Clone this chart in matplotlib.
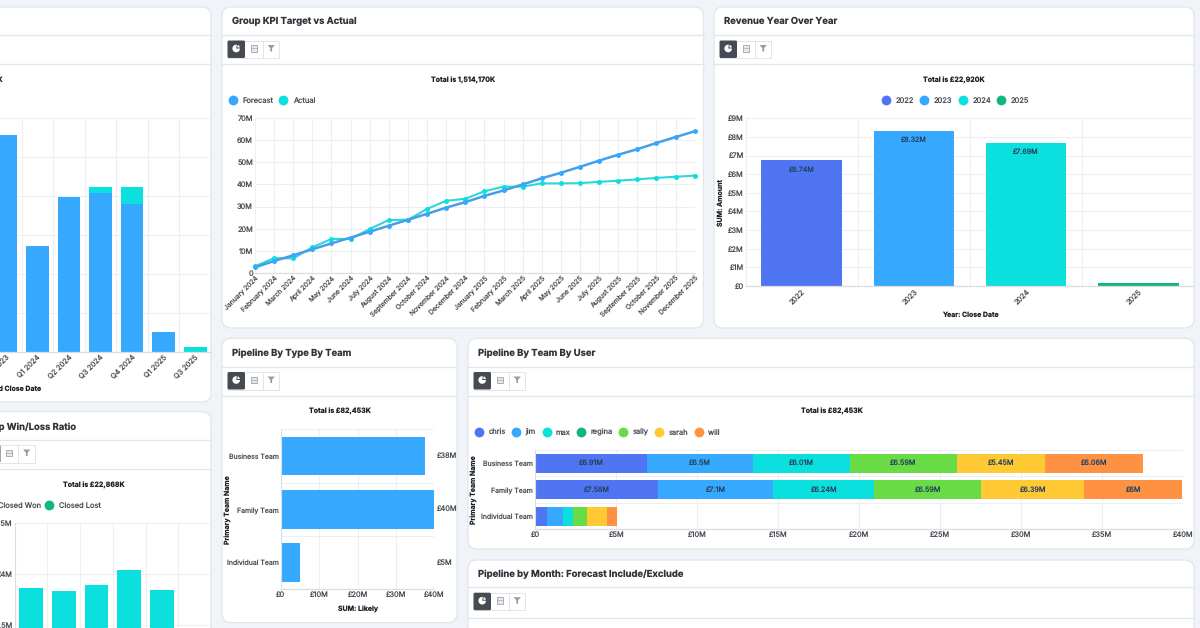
import matplotlib
matplotlib.use('Agg')
import matplotlib.pyplot as plt
from matplotlib.patches import FancyBboxPatch, Rectangle, Wedge, Polygon

plt.rcParams['font.family'] = ['Inter', 'DejaVu Sans']
plt.rcParams['text.hinting'] = 'no_hinting'
plt.rcParams['text.hinting_factor'] = 1

W, H = 1200, 628

# 차트 색상
INDIGO = '#4F75F2'
BLUE = '#36A9FF'
TEAL = '#0BE0DE'
GREEN = '#10B67F'
LIME = '#69DB45'
YELLOW = '#FFC933'
ORANGE = '#FF9142'
BG = '#F0F4F9'
BORDER = '#E2E6EB'
GRID = '#EDEFF2'
AXIS = '#DADEE3'
TITLE = '#2F343A'
TICK = '#4A5057'
DARK = '#1E2228'

# quarterly bars (left, mostly off the page)
quarters = ['Q4 2023', 'Q1 2024', 'Q2 2024', 'Q3 2024', 'Q4 2024', 'Q1 2025', 'Q3 2025']
quarter_blue = [5.56, 2.72, 3.98, 4.07, 3.80, 0.50, 0]
quarter_teal = [0, 0, 0, 0.15, 0.42, 0, 0.13]

# KPI lines
months = ['January 2024', 'February 2024', 'March 2024', 'April 2024', 'May 2024', 'June 2024',
          'July 2024', 'August 2024', 'September 2024', 'October 2024', 'November 2024', 'December 2024',
          'January 2025', 'February 2025', 'March 2025', 'April 2025', 'May 2025', 'June 2025',
          'July 2025', 'August 2025', 'September 2025', 'October 2025', 'November 2025', 'December 2025']
forecast = [2.4, 5.3, 7.9, 10.6, 13.3, 15.9, 18.6, 21.3, 24.0, 26.7, 29.5, 32.0,
            34.8, 37.3, 40.0, 42.8, 45.3, 48.0, 50.8, 53.5, 56.0, 58.8, 61.5, 64.1]
actual = [2.9, 6.6, 6.5, 11.5, 15.3, 15.3, 19.8, 23.9, 24.0, 28.9, 32.6, 33.5,
          36.9, 39.0, 39.0, 40.5, 40.5, 40.6, 41.2, 41.7, 42.3, 43.0, 43.5, 44.0]

# revenue by year
years = ['2022', '2023', '2024', '2025']
revenue = [6.74, 8.32, 7.69, 0.17]

# pipeline by team
teams = ['Business Team', 'Family Team', 'Individual Team']
team_likely = [37.6, 40.0, 5.0]

users = ['chris', 'jim', 'max', 'regina', 'sally', 'sarah', 'will']
user_business = [6.91, 6.5, 6.01, 0, 6.59, 5.45, 6.06]
user_family = [7.58, 7.1, 6.24, 0, 6.59, 6.39, 6.0]
user_individual = [0.75, 0.96, 0.64, 0, 0.87, 1.19, 0.64]
user_colors = [INDIGO, BLUE, TEAL, GREEN, LIME, YELLOW, ORANGE]

# win/loss bars
winloss = [3.87, 3.84, 3.89, 4.04, 3.85, 0]

fig = plt.figure(figsize=(W / 100, H / 100), dpi=100, facecolor=BG)
base = fig.add_axes([0, 0, 1, 1])
base.set_xlim(0, W)
base.set_ylim(H, 0)
base.axis('off')


def card(x0, y0, x1, y1, line1, line2):
    base.add_patch(FancyBboxPatch((x0, y0), x1 - x0, y1 - y0, boxstyle='round,pad=0,rounding_size=9',
                                  fc='white', ec=BORDER, lw=0.9, zorder=1))
    for y in (line1, line2):
        base.plot([x0, x1], [y, y], color=BORDER, lw=0.9, zorder=2)


def toolbar(x, y):
    # three buttons: chart, table, filter
    base.add_patch(Rectangle((x, y), 51.5, 17.5, fc='white', ec=BORDER, lw=0.7, zorder=3))
    base.plot([x + 35, x + 35], [y, y + 17.5], color=BORDER, lw=0.7, zorder=3)
    base.add_patch(FancyBboxPatch((x, y), 17.5, 17.5, boxstyle='round,pad=0,rounding_size=1.5',
                                  fc='#464B53', ec='none', zorder=4))
    cx, cy = x + 8.7, y + 8
    base.add_patch(Wedge((cx, cy), 3.8, 0, 280, fc='white', ec='none', zorder=5))
    base.add_patch(Wedge((cx + 1, cy - 1), 2.6, 280, 360, fc='white', ec='none', zorder=5))
    tx, ty = x + 23, y + 4.5
    base.add_patch(Rectangle((tx, ty), 6, 6.5, fc='#E6E8EB', ec='#A9AEB5', lw=0.7, zorder=5))
    base.plot([tx, tx + 6], [ty + 3.2, ty + 3.2], color='#A9AEB5', lw=0.5, zorder=6)
    fx, fy = x + 43.7, y + 4.5
    base.add_patch(Polygon([(fx - 3.6, fy), (fx + 3.6, fy), (fx + 0.9, fy + 3.2), (fx + 0.9, fy + 6.5),
                            (fx - 0.9, fy + 6.5), (fx - 0.9, fy + 3.2)], fc='#989DA4', ec='none', zorder=5))


def card_text(x, y, s, size=5.3, weight='normal', color=TICK, ha='left', rotation=0):
    base.text(x, y + 0.7, s, fontsize=size, fontweight=weight, color=color, ha=ha, va='center',
              rotation=rotation, zorder=6)


def legend(y, dots, names, colors, starts):
    for dx, name, c, sx in zip(dots, names, colors, starts):
        base.scatter([dx], [y], s=50, color=c, linewidths=0, zorder=6)
        card_text(sx, y, name, size=5.4)


def chart_axes(x0, y0, x1, y1):
    ax = fig.add_axes([x0 / W, 1 - y1 / H, (x1 - x0) / W, (y1 - y0) / H], facecolor='none', zorder=3)
    for side in ('top', 'right', 'left'):
        ax.spines[side].set_visible(False)
    ax.spines['bottom'].set_color(AXIS)
    ax.spines['bottom'].set_linewidth(0.9)
    ax.tick_params(length=0, labelsize=5.3, labelcolor=TICK, pad=1.5)
    ax.set_axisbelow(True)
    return ax


def band_grid(ax, n, axis='x'):
    # separators between category bands
    for i in range(n + 1):
        if axis == 'x':
            ax.axvline(i - 0.5, color=GRID, lw=0.8, zorder=0)
        else:
            ax.axhline(i - 0.5, color=GRID, lw=0.8, zorder=0)


def tilt(ax):
    for lab in ax.get_xticklabels():
        lab.set_rotation(45)
        lab.set_ha('right')
        lab.set_va('top')
        lab.set_rotation_mode('anchor')


# cards
card(-30, 7, 211, 402, 35, 64)
card(222, 7, 703.5, 328, 35, 64.3)
card(714, 7, 1194, 328, 35, 64.3)
card(222, 338.3, 457, 622.7, 366.7, 396)
card(468, 338.3, 1194, 549, 366.7, 396)
card(468, 560, 1194, 660, 587.3, 617.7)
card(-30, 411.7, 211, 660, 440, 469.3)

for tx, ty in [(227.5, 40.5), (719.5, 40.5), (227.5, 372), (473.5, 372), (473.5, 592.7), (-17, 445)]:
    toolbar(tx, ty)

card_text(232, 21, 'Group KPI Target vs Actual', size=6.8, weight='bold', color=TITLE)
card_text(723.7, 21, 'Revenue Year Over Year', size=6.8, weight='bold', color=TITLE)
card_text(232, 353, 'Pipeline By Type By Team', size=6.8, weight='bold', color=TITLE)
card_text(477.7, 353, 'Pipeline By Team By User', size=6.8, weight='bold', color=TITLE)
card_text(477.7, 574, 'Pipeline by Month: Forecast Include/Exclude', size=6.8, weight='bold', color=TITLE)
card_text(76.3, 427, 'Group Win/Loss Ratio', size=6.8, weight='bold', color=TITLE, ha='right')

card_text(2.5, 79.7, 'Total is £22,868K', size=5.1, weight='bold', color=DARK, ha='right')
card_text(463, 79.7, 'Total is 1,514,170K', size=5.1, weight='bold', color=DARK, ha='center')
card_text(954.3, 79.7, 'Total is £22,920K', size=5.1, weight='bold', color=DARK, ha='center')
card_text(340, 411, 'Total is £82,453K', size=5.1, weight='bold', color=DARK, ha='center')
card_text(831.6, 411, 'Total is £82,453K', size=5.1, weight='bold', color=DARK, ha='center')
card_text(94, 484.7, 'Total is £22,868K', size=5.1, weight='bold', color=DARK, ha='center')

legend(100, [233, 283], ['Forecast', 'Actual'], [BLUE, TEAL], [242.7, 293])
legend(100, [885.7, 924.3, 962.7, 1001], years, [INDIGO, BLUE, TEAL, GREEN], [895.7, 934, 972.7, 1011])
legend(431.7, [478.6, 515.6, 546.6, 580.8, 623, 659, 698.5], users, user_colors,
       [488.4, 525.5, 556, 590.6, 632.8, 668.5, 707.9])
legend(505, [-12, 48.7], ['Closed Won', 'Closed Lost'], [TEAL, GREEN], [-2, 58.7])

# quarterly stacked bars
ax = chart_axes(-9.9, 118, 211, 351.7)
qx = list(range(len(quarters)))
ax.bar(qx, quarter_blue, width=0.72, color=BLUE, zorder=2)
ax.bar(qx, quarter_teal, width=0.72, bottom=quarter_blue, color=TEAL, zorder=2)
ax.set_xlim(-0.5, len(quarters) - 0.5)
ax.set_ylim(0, 6)
ax.set_yticks(range(7))
ax.set_yticklabels([])
ax.grid(axis='y', color=GRID, lw=0.8)
band_grid(ax, len(quarters))
ax.set_xticks(qx)
ax.set_xticklabels(quarters)
tilt(ax)
card_text(41.3, 387.7, 'Quarter: Expected Close Date', size=5, weight='bold', color=DARK, ha='right')

# forecast vs actual lines
ax = chart_axes(255, 118.3, 694.7, 272.7)
mx = list(range(len(months)))
ax.plot(mx, actual, color='#2FD6D8', lw=1.5, marker='o', ms=3.6, mfc=TEAL, mec='none', zorder=3, clip_on=False)
ax.plot(mx, forecast, color='#459FE6', lw=1.8, marker='o', ms=3.6, mfc=BLUE, mec='none', zorder=4, clip_on=False)
ax.set_xlim(0, len(months) - 1)
ax.set_ylim(0, 70)
ax.set_yticks(range(0, 71, 10))
ax.set_yticklabels(['0'] + [f'{v}M' for v in range(10, 71, 10)])
ax.set_xticks(mx)
ax.set_xticklabels(months, fontsize=4.9)
ax.grid(axis='both', color=GRID, lw=0.8)
tilt(ax)

# revenue by year
ax = chart_axes(745.7, 118.3, 1194.3, 286)
yx = list(range(len(years)))
bars = ax.bar(yx, revenue, width=0.72, color=[INDIGO, BLUE, TEAL, GREEN], zorder=2)
ax.set_xlim(-0.5, 3.5)
ax.set_ylim(0, 9)
ax.set_yticks(range(10))
ax.set_yticklabels(['£0'] + [f'£{v}M' for v in range(1, 10)])
ax.grid(axis='y', color=GRID, lw=0.8)
band_grid(ax, len(years))
ax.set_xticks(yx)
ax.set_xticklabels(years)
tilt(ax)
for i, v in enumerate(revenue[:3]):
    ax.annotate(f'£{v}M', (i, v), xytext=(0, -6.5), textcoords='offset points', ha='center', va='center',
                fontsize=5.1, color='#24405F', zorder=5)
card_text(720.7, 201.7, 'SUM: Amount', size=5, weight='bold', color=DARK, ha='center', rotation=90)
card_text(970, 314, 'Year: Close Date', size=5, weight='bold', color=DARK, ha='center')

# pipeline by team
ax = chart_axes(280.7, 429.3, 434.3, 589.3)
ty = list(range(len(teams)))
ax.barh(ty, team_likely, height=0.72, color=BLUE, zorder=2)
ax.set_ylim(2.5, -0.5)
ax.set_xlim(0, 40)
ax.set_yticks(ty)
ax.set_yticklabels(teams, fontsize=5)
ax.set_xticks(range(0, 41, 10))
ax.set_xticklabels(['£0'] + [f'£{v}M' for v in range(10, 41, 10)])
ax.grid(axis='x', color=GRID, lw=0.8)
band_grid(ax, len(teams), 'y')
ax.spines['left'].set_visible(True)
ax.spines['left'].set_color(AXIS)
for i, v in enumerate(team_likely):
    ax.text(1.016, i, f'£{v:.0f}M', transform=ax.get_yaxis_transform(), fontsize=5.3, color=TICK,
            ha='left', va='center')
card_text(228.3, 509, 'Primary Team Name', size=5, weight='bold', color=DARK, ha='center', rotation=90)
card_text(357.7, 608.7, 'SUM: Likely', size=5, weight='bold', color=DARK, ha='center')

# pipeline by team and user
ax = chart_axes(535.3, 450, 1183.2, 529.3)
left = [0, 0, 0]
rows = [user_business, user_family, user_individual]
for k, (name, c) in enumerate(zip(users, user_colors)):
    vals = [r[k] for r in rows]
    ax.barh(ty, vals, left=left, height=0.72, color=c, zorder=2, label=name)
    for i in range(2):
        if vals[i] > 0:
            ax.text(left[i] + vals[i] / 2, i, f'£{vals[i]:g}M', ha='center', va='center', fontsize=5.2,
                    color='#24405F', zorder=5)
    left = [a + b for a, b in zip(left, vals)]
ax.set_ylim(2.5, -0.5)
ax.set_xlim(0, 40)
ax.set_yticks(ty)
ax.set_yticklabels(teams, fontsize=5)
ax.set_xticks(range(0, 41, 5))
ax.set_xticklabels(['£0'] + [f'£{v}M' for v in range(5, 41, 5)])
ax.grid(axis='x', color=GRID, lw=0.8)
band_grid(ax, len(teams), 'y')
ax.spines['left'].set_visible(True)
ax.spines['left'].set_color(AXIS)
card_text(474, 489, 'Primary Team Name', size=5, weight='bold', color=DARK, ha='center', rotation=90)

# win/loss bars, the lower part runs off the page
ax = chart_axes(14.7, 523.3, 211, 982)
wx = list(range(len(winloss)))
ax.bar(wx, winloss, width=0.72, color=TEAL, zorder=2)
ax.set_xlim(-0.5, len(winloss) - 0.5)
ax.set_ylim(0, 4.5)
ax.set_yticks([3.5, 4.0, 4.5])
ax.set_yticklabels(['£3.5M', '£4M', '£4.5M'])
ax.grid(axis='y', color=GRID, lw=0.8)
band_grid(ax, len(winloss))
ax.spines['left'].set_visible(True)
ax.spines['left'].set_color(AXIS)

fig.savefig('out.png', dpi=100, facecolor=BG)
